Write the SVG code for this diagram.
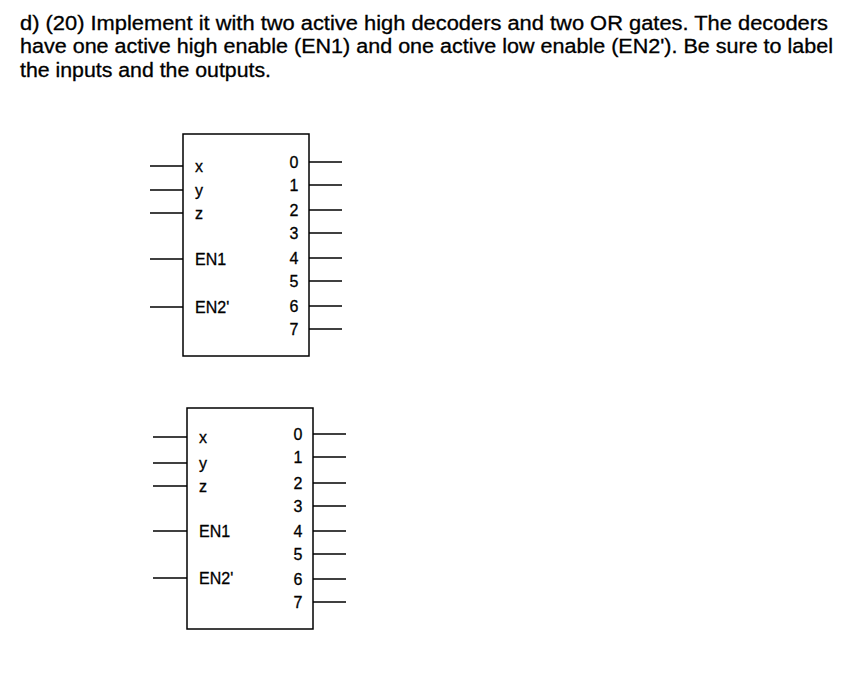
<svg xmlns="http://www.w3.org/2000/svg" width="857" height="691" viewBox="0 0 857 691">
<style>
text{font-family:"Liberation Sans",Arial,sans-serif;fill:#000;stroke:#000;stroke-width:0.3}
.t{font-size:19.5px}
.l{font-size:16px}
.n{font-size:16px;text-anchor:middle}
.box{fill:none;stroke:#000;stroke-width:1.5}
line{stroke:#000;stroke-width:1.5}
</style>
<rect width="857" height="691" fill="#fff"/>
<text class="t" x="20" y="30" textLength="808" lengthAdjust="spacingAndGlyphs">d) (20) Implement it with two active high decoders and two OR gates.  The decoders</text>
<text class="t" x="20" y="53" textLength="813" lengthAdjust="spacingAndGlyphs">have one active high enable (EN1) and one active low enable (EN2').  Be sure to label</text>
<text class="t" x="20" y="77" textLength="251" lengthAdjust="spacingAndGlyphs">the inputs and the outputs.</text>
<g id="decoder1">
<rect class="box" x="183" y="134" width="126" height="222"/>
<text class="l" x="195" y="172">x</text><text class="l" x="195" y="196">y</text><text class="l" x="195" y="219">z</text>
<text class="l" x="195" y="265">EN1</text><text class="l" x="195" y="313">EN2'</text>
<text class="n" x="294" y="168">0</text><text class="n" x="294" y="191">1</text><text class="n" x="294" y="216">2</text><text class="n" x="294" y="239">3</text><text class="n" x="294" y="264">4</text><text class="n" x="294" y="287">5</text><text class="n" x="294" y="312">6</text><text class="n" x="294" y="335">7</text>
</g>
<g id="decoder2">
<rect class="box" x="187" y="408" width="126" height="221"/>
<text class="l" x="199" y="443">x</text><text class="l" x="199" y="469">y</text><text class="l" x="199" y="492">z</text>
<text class="l" x="199" y="537">EN1</text><text class="l" x="199" y="584">EN2'</text>
<text class="n" x="298" y="440">0</text><text class="n" x="298" y="463">1</text><text class="n" x="298" y="489">2</text><text class="n" x="298" y="512">3</text><text class="n" x="298" y="537">4</text><text class="n" x="298" y="560">5</text><text class="n" x="298" y="585">6</text><text class="n" x="298" y="608">7</text>
</g>
<g id="connectors">
<line x1="150" y1="166" x2="183" y2="166"/><line x1="150" y1="190" x2="183" y2="190"/><line x1="150" y1="213" x2="183" y2="213"/><line x1="150" y1="259" x2="183" y2="259"/><line x1="150" y1="307" x2="183" y2="307"/>
<line x1="309" y1="162" x2="342" y2="162"/><line x1="309" y1="185" x2="342" y2="185"/><line x1="309" y1="210" x2="342" y2="210"/><line x1="309" y1="233" x2="342" y2="233"/><line x1="309" y1="258" x2="342" y2="258"/><line x1="309" y1="281" x2="342" y2="281"/><line x1="309" y1="306" x2="342" y2="306"/><line x1="309" y1="329" x2="342" y2="329"/>
<line x1="153" y1="437" x2="187" y2="437"/><line x1="153" y1="463" x2="187" y2="463"/><line x1="153" y1="486" x2="187" y2="486"/><line x1="153" y1="531" x2="187" y2="531"/><line x1="153" y1="578" x2="187" y2="578"/>
<line x1="313" y1="434" x2="346" y2="434"/><line x1="313" y1="457" x2="346" y2="457"/><line x1="313" y1="483" x2="346" y2="483"/><line x1="313" y1="506" x2="346" y2="506"/><line x1="313" y1="531" x2="346" y2="531"/><line x1="313" y1="554" x2="346" y2="554"/><line x1="313" y1="579" x2="346" y2="579"/><line x1="313" y1="602" x2="346" y2="602"/>
</g>
</svg>
